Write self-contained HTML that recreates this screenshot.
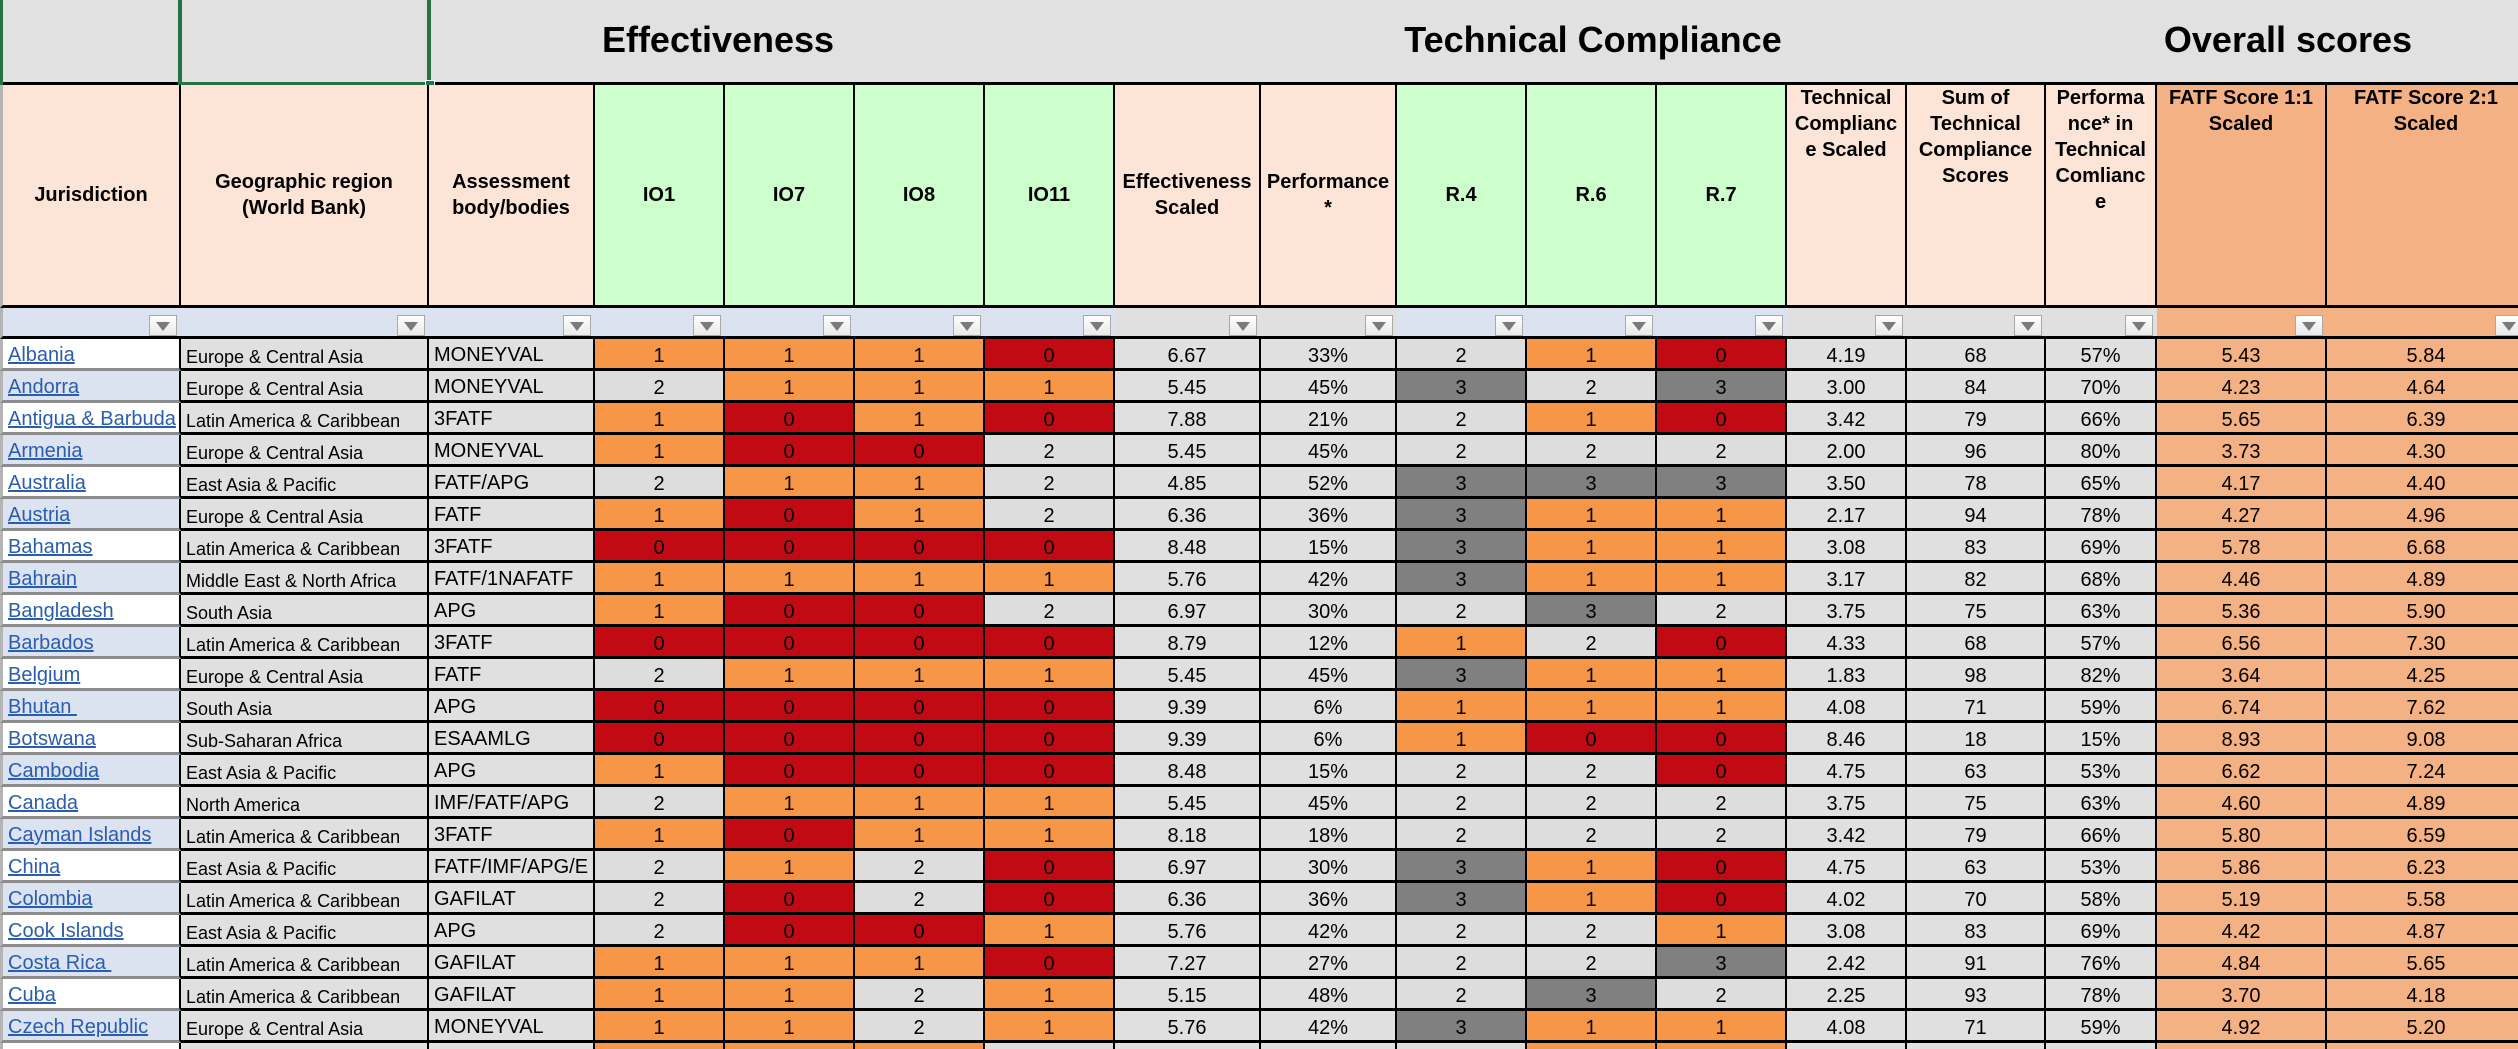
<!DOCTYPE html>
<html><head><meta charset="utf-8">
<style>
body{margin:0;background:#fff}
#w{position:relative;width:2518px;height:1049px;overflow:hidden;font-family:"Liberation Sans",Arial,sans-serif;background:#fff;color:#000}
#t{position:absolute;left:0;top:0;width:2518px;height:85px;background:#e1e1e1;border-bottom:3px solid #000;box-sizing:border-box}
.tt{position:absolute;top:22px;height:36px;width:400px;text-align:center;font-weight:bold;font-size:36px;line-height:36px;white-space:nowrap}
.gl{position:absolute;background:#257245}
.row{position:absolute;left:0;display:grid;grid-template-columns:181px 248px 166px 130px 130px 130px 130px 146px 136px 130px 130px 130px 120px 139px 111px 170px 200px;width:2527px}
.row>div{box-sizing:border-box;border-right:2px solid #000;border-bottom:3px solid #000;overflow:hidden;white-space:nowrap;position:relative}
.hr{top:85px;height:223px}
.hr>div{font-weight:bold;font-size:20px;line-height:26px;text-align:center;display:flex;align-items:center;justify-content:center}
.hr>div.tp{align-items:flex-start}
.hr>div:first-child,.fr>div:first-child{border-left:3px solid #b4b4b4}
.fr{top:308px;height:31px}
.fr>div{border-right:none}
.bt{position:absolute;right:4px;top:7px;width:28px;height:21px;box-sizing:border-box;border:1px solid #a8a8a8;background:linear-gradient(#ffffff,#e9e9e9)}
.bt:after{content:"";position:absolute;left:50%;top:6px;margin-left:-7px;border-left:7px solid transparent;border-right:7px solid transparent;border-top:9px solid #7a7a7a}
.dr{height:32px}
.dr>div{font-size:20px;line-height:34px;text-align:center}
.dr>div.j{border-left:3px solid #b4b4b4;border-bottom-color:#8c8c8c;text-align:left;padding-left:5px;line-height:32px}
.j a{color:#2a5db0;text-decoration:underline}
.dr>div.t{text-align:left;padding-left:5px;font-size:18px;line-height:37px}
.dr>div.m{text-align:left;padding-left:5px;line-height:32px}
.w{background:#fff}.b{background:#dce3f0}.k{background:#e0e0e0}.o{background:#f79646}.r{background:#c20a14}.g{background:#dddddd}.d{background:#808080}.f{background:#f4b183}.p{background:#fce4d6}.gr{background:#ccffcc}
</style></head><body><div id="w">

<div id="t"></div>
<div class="gl" style="left:0;top:0;width:3px;height:85px"></div>
<div class="gl" style="left:178px;top:0;width:4px;height:86px"></div>
<div class="gl" style="left:178px;top:82px;width:253px;height:4px"></div>
<div class="gl" style="left:427px;top:0;width:4px;height:86px"></div>
<div class="gl" style="left:425px;top:80px;width:8px;height:8px;border:1px solid #fff"></div>
<div class="tt" style="left:518px">Effectiveness</div>
<div class="tt" style="left:1393px">Technical Compliance</div>
<div class="tt" style="left:2088px">Overall scores</div>

<div class="row hr">
<div class="p"><span>Jurisdiction</span></div>
<div class="p"><span>Geographic region<br>(World Bank)</span></div>
<div class="p"><span>Assessment<br>body/bodies</span></div>
<div class="gr"><span>IO1</span></div>
<div class="gr"><span>IO7</span></div>
<div class="gr"><span>IO8</span></div>
<div class="gr"><span>IO11</span></div>
<div class="p"><span>Effectiveness<br>Scaled</span></div>
<div class="p"><span>Performance<br>*</span></div>
<div class="gr"><span>R.4</span></div>
<div class="gr"><span>R.6</span></div>
<div class="gr"><span>R.7</span></div>
<div class="p tp"><span>Technical<br>Complianc<br>e Scaled</span></div>
<div class="p tp"><span>Sum of<br>Technical<br>Compliance<br>Scores</span></div>
<div class="p tp"><span>Performa<br>nce* in<br>Technical<br>Comlianc<br>e</span></div>
<div class="f tp"><span>FATF Score 1:1<br>Scaled</span></div>
<div class="f tp"><span>FATF Score 2:1<br>Scaled</span></div>
</div>

<div class="row fr">
<div class="b"><i class="bt"></i></div><div class="b"><i class="bt"></i></div><div class="b"><i class="bt"></i></div><div class="b"><i class="bt"></i></div><div class="b"><i class="bt"></i></div><div class="b"><i class="bt"></i></div><div class="b"><i class="bt"></i></div><div class="k"><i class="bt"></i></div><div class="k"><i class="bt"></i></div><div class="b"><i class="bt"></i></div><div class="b"><i class="bt"></i></div><div class="b"><i class="bt"></i></div><div class="k"><i class="bt"></i></div><div class="k"><i class="bt"></i></div><div class="k"><i class="bt"></i></div><div class="f"><i class="bt"></i></div><div class="f"><i class="bt"></i></div>
</div>

<div class="row dr" style="top:339px"><div class="j w"><a>Albania</a></div><div class="t k">Europe &amp; Central Asia</div><div class="m k">MONEYVAL</div><div class="o">1</div><div class="o">1</div><div class="o">1</div><div class="r">0</div><div class="k">6.67</div><div class="k">33%</div><div class="g">2</div><div class="o">1</div><div class="r">0</div><div class="k">4.19</div><div class="k">68</div><div class="k">57%</div><div class="f">5.43</div><div class="f">5.84</div></div>

<div class="row dr" style="top:371px"><div class="j b"><a>Andorra</a></div><div class="t k">Europe &amp; Central Asia</div><div class="m k">MONEYVAL</div><div class="g">2</div><div class="o">1</div><div class="o">1</div><div class="o">1</div><div class="k">5.45</div><div class="k">45%</div><div class="d">3</div><div class="g">2</div><div class="d">3</div><div class="k">3.00</div><div class="k">84</div><div class="k">70%</div><div class="f">4.23</div><div class="f">4.64</div></div>

<div class="row dr" style="top:403px"><div class="j w"><a>Antigua &amp; Barbuda</a></div><div class="t k">Latin America &amp; Caribbean</div><div class="m k">3FATF</div><div class="o">1</div><div class="r">0</div><div class="o">1</div><div class="r">0</div><div class="k">7.88</div><div class="k">21%</div><div class="g">2</div><div class="o">1</div><div class="r">0</div><div class="k">3.42</div><div class="k">79</div><div class="k">66%</div><div class="f">5.65</div><div class="f">6.39</div></div>

<div class="row dr" style="top:435px"><div class="j b"><a>Armenia</a></div><div class="t k">Europe &amp; Central Asia</div><div class="m k">MONEYVAL</div><div class="o">1</div><div class="r">0</div><div class="r">0</div><div class="g">2</div><div class="k">5.45</div><div class="k">45%</div><div class="g">2</div><div class="g">2</div><div class="g">2</div><div class="k">2.00</div><div class="k">96</div><div class="k">80%</div><div class="f">3.73</div><div class="f">4.30</div></div>

<div class="row dr" style="top:467px"><div class="j w"><a>Australia</a></div><div class="t k">East Asia &amp; Pacific</div><div class="m k">FATF/APG</div><div class="g">2</div><div class="o">1</div><div class="o">1</div><div class="g">2</div><div class="k">4.85</div><div class="k">52%</div><div class="d">3</div><div class="d">3</div><div class="d">3</div><div class="k">3.50</div><div class="k">78</div><div class="k">65%</div><div class="f">4.17</div><div class="f">4.40</div></div>

<div class="row dr" style="top:499px"><div class="j b"><a>Austria</a></div><div class="t k">Europe &amp; Central Asia</div><div class="m k">FATF</div><div class="o">1</div><div class="r">0</div><div class="o">1</div><div class="g">2</div><div class="k">6.36</div><div class="k">36%</div><div class="d">3</div><div class="o">1</div><div class="o">1</div><div class="k">2.17</div><div class="k">94</div><div class="k">78%</div><div class="f">4.27</div><div class="f">4.96</div></div>

<div class="row dr" style="top:531px"><div class="j w"><a>Bahamas</a></div><div class="t k">Latin America &amp; Caribbean</div><div class="m k">3FATF</div><div class="r">0</div><div class="r">0</div><div class="r">0</div><div class="r">0</div><div class="k">8.48</div><div class="k">15%</div><div class="d">3</div><div class="o">1</div><div class="o">1</div><div class="k">3.08</div><div class="k">83</div><div class="k">69%</div><div class="f">5.78</div><div class="f">6.68</div></div>

<div class="row dr" style="top:563px"><div class="j b"><a>Bahrain</a></div><div class="t k">Middle East &amp; North Africa</div><div class="m k">FATF/1NAFATF</div><div class="o">1</div><div class="o">1</div><div class="o">1</div><div class="o">1</div><div class="k">5.76</div><div class="k">42%</div><div class="d">3</div><div class="o">1</div><div class="o">1</div><div class="k">3.17</div><div class="k">82</div><div class="k">68%</div><div class="f">4.46</div><div class="f">4.89</div></div>

<div class="row dr" style="top:595px"><div class="j w"><a>Bangladesh</a></div><div class="t k">South Asia</div><div class="m k">APG</div><div class="o">1</div><div class="r">0</div><div class="r">0</div><div class="g">2</div><div class="k">6.97</div><div class="k">30%</div><div class="g">2</div><div class="d">3</div><div class="g">2</div><div class="k">3.75</div><div class="k">75</div><div class="k">63%</div><div class="f">5.36</div><div class="f">5.90</div></div>

<div class="row dr" style="top:627px"><div class="j b"><a>Barbados</a></div><div class="t k">Latin America &amp; Caribbean</div><div class="m k">3FATF</div><div class="r">0</div><div class="r">0</div><div class="r">0</div><div class="r">0</div><div class="k">8.79</div><div class="k">12%</div><div class="o">1</div><div class="g">2</div><div class="r">0</div><div class="k">4.33</div><div class="k">68</div><div class="k">57%</div><div class="f">6.56</div><div class="f">7.30</div></div>

<div class="row dr" style="top:659px"><div class="j w"><a>Belgium</a></div><div class="t k">Europe &amp; Central Asia</div><div class="m k">FATF</div><div class="g">2</div><div class="o">1</div><div class="o">1</div><div class="o">1</div><div class="k">5.45</div><div class="k">45%</div><div class="d">3</div><div class="o">1</div><div class="o">1</div><div class="k">1.83</div><div class="k">98</div><div class="k">82%</div><div class="f">3.64</div><div class="f">4.25</div></div>

<div class="row dr" style="top:691px"><div class="j b"><a>Bhutan&nbsp;</a></div><div class="t k">South Asia</div><div class="m k">APG</div><div class="r">0</div><div class="r">0</div><div class="r">0</div><div class="r">0</div><div class="k">9.39</div><div class="k">6%</div><div class="o">1</div><div class="o">1</div><div class="o">1</div><div class="k">4.08</div><div class="k">71</div><div class="k">59%</div><div class="f">6.74</div><div class="f">7.62</div></div>

<div class="row dr" style="top:723px"><div class="j w"><a>Botswana</a></div><div class="t k">Sub-Saharan Africa</div><div class="m k">ESAAMLG</div><div class="r">0</div><div class="r">0</div><div class="r">0</div><div class="r">0</div><div class="k">9.39</div><div class="k">6%</div><div class="o">1</div><div class="r">0</div><div class="r">0</div><div class="k">8.46</div><div class="k">18</div><div class="k">15%</div><div class="f">8.93</div><div class="f">9.08</div></div>

<div class="row dr" style="top:755px"><div class="j b"><a>Cambodia</a></div><div class="t k">East Asia &amp; Pacific</div><div class="m k">APG</div><div class="o">1</div><div class="r">0</div><div class="r">0</div><div class="r">0</div><div class="k">8.48</div><div class="k">15%</div><div class="g">2</div><div class="g">2</div><div class="r">0</div><div class="k">4.75</div><div class="k">63</div><div class="k">53%</div><div class="f">6.62</div><div class="f">7.24</div></div>

<div class="row dr" style="top:787px"><div class="j w"><a>Canada</a></div><div class="t k">North America</div><div class="m k">IMF/FATF/APG</div><div class="g">2</div><div class="o">1</div><div class="o">1</div><div class="o">1</div><div class="k">5.45</div><div class="k">45%</div><div class="g">2</div><div class="g">2</div><div class="g">2</div><div class="k">3.75</div><div class="k">75</div><div class="k">63%</div><div class="f">4.60</div><div class="f">4.89</div></div>

<div class="row dr" style="top:819px"><div class="j b"><a>Cayman Islands</a></div><div class="t k">Latin America &amp; Caribbean</div><div class="m k">3FATF</div><div class="o">1</div><div class="r">0</div><div class="o">1</div><div class="o">1</div><div class="k">8.18</div><div class="k">18%</div><div class="g">2</div><div class="g">2</div><div class="g">2</div><div class="k">3.42</div><div class="k">79</div><div class="k">66%</div><div class="f">5.80</div><div class="f">6.59</div></div>

<div class="row dr" style="top:851px"><div class="j w"><a>China</a></div><div class="t k">East Asia &amp; Pacific</div><div class="m k">FATF/IMF/APG/E</div><div class="g">2</div><div class="o">1</div><div class="g">2</div><div class="r">0</div><div class="k">6.97</div><div class="k">30%</div><div class="d">3</div><div class="o">1</div><div class="r">0</div><div class="k">4.75</div><div class="k">63</div><div class="k">53%</div><div class="f">5.86</div><div class="f">6.23</div></div>

<div class="row dr" style="top:883px"><div class="j b"><a>Colombia</a></div><div class="t k">Latin America &amp; Caribbean</div><div class="m k">GAFILAT</div><div class="g">2</div><div class="r">0</div><div class="g">2</div><div class="r">0</div><div class="k">6.36</div><div class="k">36%</div><div class="d">3</div><div class="o">1</div><div class="r">0</div><div class="k">4.02</div><div class="k">70</div><div class="k">58%</div><div class="f">5.19</div><div class="f">5.58</div></div>

<div class="row dr" style="top:915px"><div class="j w"><a>Cook Islands</a></div><div class="t k">East Asia &amp; Pacific</div><div class="m k">APG</div><div class="g">2</div><div class="r">0</div><div class="r">0</div><div class="o">1</div><div class="k">5.76</div><div class="k">42%</div><div class="g">2</div><div class="g">2</div><div class="o">1</div><div class="k">3.08</div><div class="k">83</div><div class="k">69%</div><div class="f">4.42</div><div class="f">4.87</div></div>

<div class="row dr" style="top:947px"><div class="j b"><a>Costa Rica&nbsp;</a></div><div class="t k">Latin America &amp; Caribbean</div><div class="m k">GAFILAT</div><div class="o">1</div><div class="o">1</div><div class="o">1</div><div class="r">0</div><div class="k">7.27</div><div class="k">27%</div><div class="g">2</div><div class="g">2</div><div class="d">3</div><div class="k">2.42</div><div class="k">91</div><div class="k">76%</div><div class="f">4.84</div><div class="f">5.65</div></div>

<div class="row dr" style="top:979px"><div class="j w"><a>Cuba</a></div><div class="t k">Latin America &amp; Caribbean</div><div class="m k">GAFILAT</div><div class="o">1</div><div class="o">1</div><div class="g">2</div><div class="o">1</div><div class="k">5.15</div><div class="k">48%</div><div class="g">2</div><div class="d">3</div><div class="g">2</div><div class="k">2.25</div><div class="k">93</div><div class="k">78%</div><div class="f">3.70</div><div class="f">4.18</div></div>

<div class="row dr" style="top:1011px"><div class="j b"><a>Czech Republic</a></div><div class="t k">Europe &amp; Central Asia</div><div class="m k">MONEYVAL</div><div class="o">1</div><div class="o">1</div><div class="g">2</div><div class="o">1</div><div class="k">5.76</div><div class="k">42%</div><div class="d">3</div><div class="o">1</div><div class="o">1</div><div class="k">4.08</div><div class="k">71</div><div class="k">59%</div><div class="f">4.92</div><div class="f">5.20</div></div>

<div class="row dr" style="top:1043px"><div class="j w"></div><div class="t k"></div><div class="m k"></div><div class="o"></div><div class="o"></div><div class="o"></div><div class="g"></div><div class="k"></div><div class="k"></div><div class="g"></div><div class="o"></div><div class="o"></div><div class="k"></div><div class="k"></div><div class="k"></div><div class="f"></div><div class="f"></div></div>

</div></body></html>
